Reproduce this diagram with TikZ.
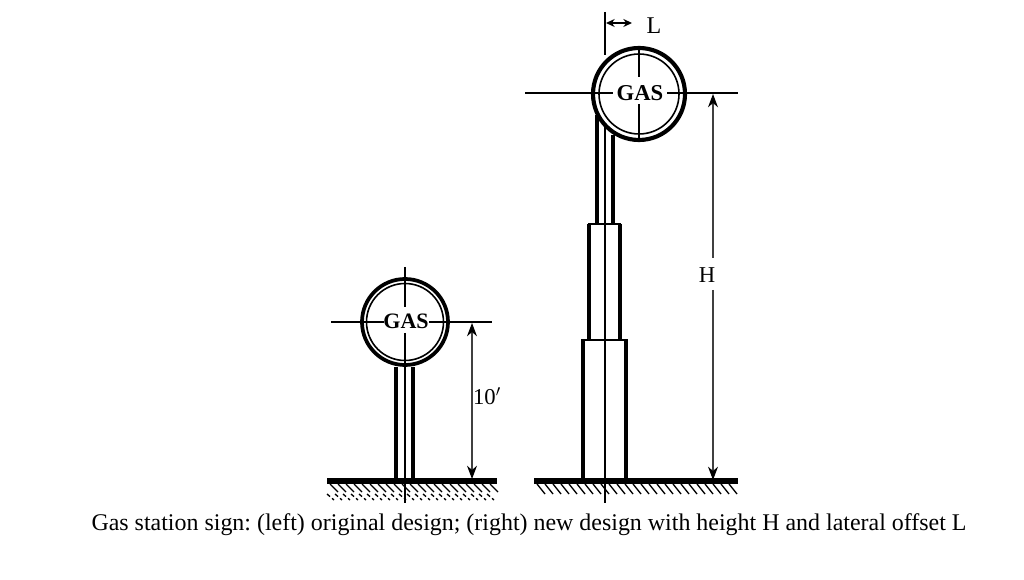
\documentclass[tikz,border=0pt]{standalone}
\usepackage{fontspec}
\usepackage{tikz}
\usetikzlibrary{arrows.meta}
\setmainfont{Liberation Serif}
\frenchspacing
\tikzset{
  ringout/.style={line width=2.8pt},
  ringin/.style={line width=1.2pt},
  mast/.style={line width=2.3pt},
  thin line/.style={line width=0.9pt},
  dim line/.style={line width=0.8pt,draw=black!75,>={Stealth[length=10pt,width=7.5pt,color=black]}},
  ground/.style={line width=4.4pt},
  hatch/.style={line width=1pt},
  txt/.style={font=\fontsize{#1}{#1}\selectfont}
}
\begin{document}
\begin{tikzpicture}[x=0.75pt,y=-0.75pt]
  \useasboundingbox (0,0) rectangle (1024,580);
  % left sign
  \draw[ringout] (405,322) circle [radius=43];
  \draw[ringin] (405,322) circle [radius=38.5];
  \draw[thin line] (405,267) -- (405,307);
  \draw[thin line] (405,333) -- (405,365);
  \draw[thin line] (331,322) -- (384,322);
  \draw[thin line] (429,322) -- (492,322);
  \node[txt=16.5] at (406,321) {\textbf{GAS}};
  \draw[mast] (396,367) -- (396,479);
  \draw[mast] (413,367) -- (413,479);
  \draw[thin line] (405,367) -- (405,503);
  \draw[ground] (327,481) -- (497,481);
  \foreach \x in {330,338,...,490}
    \draw[hatch] (\x,484) -- (\x+8,492);
  \foreach \x in {327,335,...,487}
    \draw[hatch,densely dashed] (\x,494) -- (\x+7,500);
  \draw[dim line,<->] (472,323) -- (472,479);
  \node[txt=17] at (487,396) {10$'$};
  % right sign
  \draw[ringout,line width=3.1pt] (639,94) circle [radius=46];
  \draw[ringin] (639,94) circle [radius=40];
  \draw[thin line] (639,47) -- (639,77);
  \draw[thin line] (639,104) -- (639,140);
  \draw[thin line] (525,93) -- (613,93);
  \draw[thin line] (667,93) -- (738,93);
  \node[txt=17] at (640,93) {\textbf{GAS}};
  \draw[mast] (597,115) -- (597,223);
  \draw[mast] (613,135) -- (613,223);
  \draw[mast] (589,224) -- (589,340);
  \draw[mast] (620,224) -- (620,340);
  \draw[thin line] (588,224) -- (621,224);
  \draw[mast] (583,340) -- (583,480);
  \draw[mast] (626,340) -- (626,480);
  \draw[thin line] (581,340) -- (628,340);
  \draw[thin line] (605,12) -- (605,55);
  \draw[thin line] (605,125) -- (605,503);
  \draw[ground] (534,481) -- (738,481);
  \foreach \x in {537,545,...,730}
    \draw[hatch] (\x,484) -- (\x+8,494);
  \draw[line width=1.8pt,>={Stealth[length=6.5pt,width=6pt]},<->] (606,23) -- (632,23);
  \node[txt=18] at (654,26) {L};
  \draw[dim line,<-] (713,94) -- (713,258);
  \draw[dim line,->] (713,290) -- (713,480);
  \node[txt=17] at (707,275) {H};
  % caption
  \node[txt=17.95] at (529,524.5) {Gas station sign: (left) original design; (right) new design with height H and lateral offset L};
\end{tikzpicture}
\end{document}
